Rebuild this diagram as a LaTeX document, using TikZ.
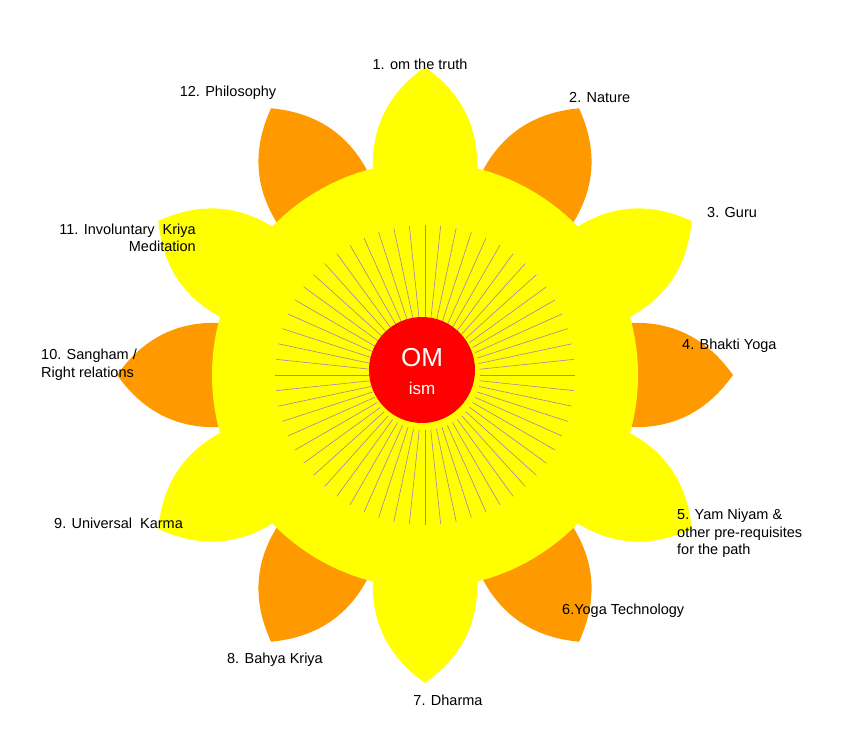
\documentclass[tikz,border=0pt]{standalone}
\usepackage{fontspec}
\setmainfont{Liberation Sans}
\usetikzlibrary{positioning,calc}
\definecolor{petalyellow}{RGB}{255, 255, 0}
\definecolor{petalorange}{RGB}{255, 153, 0}
\definecolor{omred}{RGB}{255, 0, 0}
\definecolor{raycolor}{RGB}{185, 120, 170}

\begin{document}
\begin{tikzpicture}[
    x=1pt, y=1pt,
    label/.style={font=\fontsize{14.5}{17.5}\selectfont, inner sep=1pt},
    petal/.pic={\fill[#1] (175,-48) .. controls (255,-66) and (292,-22) .. (308,0)
        .. controls (292,22) and (255,66) .. (175,48) -- cycle;},
    ray/.style={draw=raycolor, line width=0.6pt}
]
\useasboundingbox (0,0) rectangle (864,748);
\coordinate (centre) at (425,373);

% Petals
\foreach \a in {0,60,...,300}
    \pic[rotate=\a] at (centre) {petal=petalorange};
\foreach \a in {30,90,...,330}
    \pic[rotate=\a] at (centre) {petal=petalyellow};

% Flower body and rays
\fill[petalyellow] (centre) circle (213);
\foreach \a in {0,6,...,354}
    \draw[ray] ($(centre)+(\a:55)$) -- ($(centre)+(\a:150)$);
\node[circle, fill=omred, minimum size=106pt, inner sep=0pt] (om) at (422,378) {};
\node[text=white, font=\fontsize{26}{28}\selectfont] (omtitle) at (422,390) {OM};
\node[text=white, font=\fontsize{17}{19}\selectfont] (omsub) at (422,360) {ism};

% Labels
\node[label] (truth) at (420,684) {1. om the truth};
\node[label, anchor=west] (nature) at (568,650) {2. Nature};
\node[label, anchor=west] (guru) at (706,535) {3. Guru};
\node[label, anchor=west] (bhakti) at (681,402) {4. Bhakti Yoga};
\node[label, anchor=north west, align=left] (yam) at (676,240) {5. Yam Niyam \&\\other pre-requisites\\for the path};
\node[label, anchor=west] (yogatech) at (561,137) {6.Yoga Technology};
\node[label] (dharma) at (448,48) {7. Dharma};
\node[label] (bahya) at (275,88) {8. Bahya Kriya};
\node[label, anchor=west] (karma) at (53,225) {9. Universal\ \ Karma};
\node[label, anchor=west, align=left] (sangham) at (40,383) {10. Sangham /\\Right relations};
\node[label, anchor=east, align=right] (kriya) at (197,510) {11. Involuntary\ \ Kriya\\Meditation};
\node[label] (philosophy) at (228,655) {12. Philosophy};
\end{tikzpicture}
\end{document}
